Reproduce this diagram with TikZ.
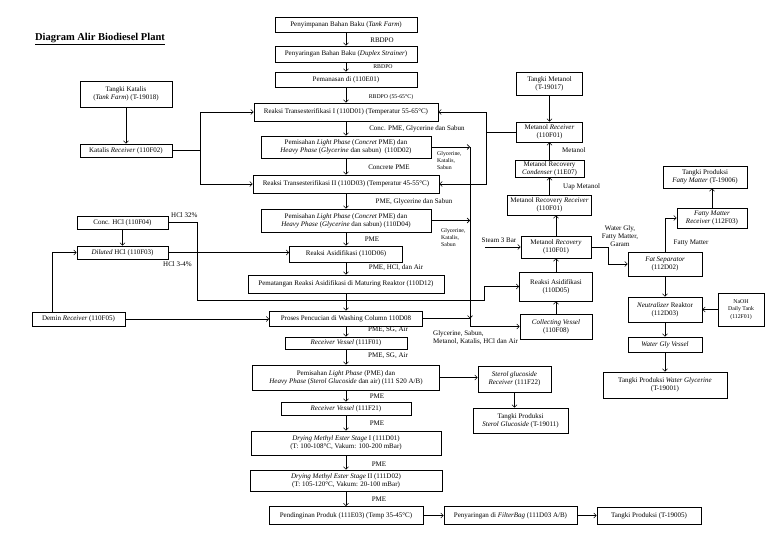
\documentclass[tikz,border=0pt]{standalone}
\usepackage{fontspec}
\setmainfont{Liberation Serif}
\usetikzlibrary{arrows.meta}

\begin{document}
\begin{tikzpicture}[x=1pt, y=-1pt, >={Straight Barb[length=2.5pt,width=5pt]},
            box/.style={draw, line width=0.7pt, inner sep=0.5pt, align=center, font=\fontsize{7}{8.2}\selectfont},
            flow/.style={draw, ->, line width=0.6pt}]
            \tikzset{lbl/.style={inner sep=0pt, align=center, font=\fontsize{7}{8}\selectfont}}
            \tikzset{small lbl/.style={inner sep=0pt, align=left, font=\fontsize{5.8}{7.2}\selectfont}}
            \useasboundingbox (0,0) rectangle (768,543);
            \node[inner sep=0pt, font=\fontsize{10.5}{12}\selectfont\bfseries] (title) at (100,39) {\underline{Diagram Alir Biodiesel Plant}};
            % main column
            \node[box, minimum width=142, minimum height=15] (p1) at (346,24.5) {Penyimpanan Bahan Baku (\textit{Tank Farm})};
            \node[box, minimum width=142, minimum height=16] (p2) at (346,54) {Penyaringan Bahan Baku (\textit{Duplex Strainer})};
            \node[box, minimum width=142, minimum height=15] (p3) at (346,79.5) {Pemanasan di (110E01)};
            \node[box, minimum width=184, minimum height=18] (p4) at (346,112) {Reaksi Transesterifikasi I (110D01) (Temperatur 55-65°C)};
            \node[box, minimum width=170, minimum height=22] (p5) at (346,147) {Pemisahan \textit{Light Phase} (\textit{Concret} PME) dan\\ \textit{Heavy Phase} (\textit{Glycerine} dan sabun) \ (110D02)};
            \node[box, minimum width=186, minimum height=18] (p6) at (346,184) {Reaksi Transesterifikasi II (110D03) (Temperatur 45-55°C)};
            \node[box, minimum width=170, minimum height=23] (p7) at (346,220.5) {Pemisahan \textit{Light Phase} (\textit{Concret} PME) dan\\ \textit{Heavy Phase} (\textit{Glycerine} dan sabun) (110D04)};
            \node[box, minimum width=113, minimum height=16] (p8) at (346,254) {Reaksi Asidifikasi (110D06)};
            \node[box, minimum width=196, minimum height=18] (p9) at (346,284) {Pematangan Reaksi Asidifikasi di Maturing Reaktor (110D12)};
            \node[box, minimum width=153, minimum height=15] (p10) at (346,318.5) {Proses Pencucian di Washing Column 110D08};
            \node[box, minimum width=122, minimum height=12] (p11) at (346,343) {\textit{Receiver Vessel} (111F01)};
            \node[box, minimum width=187, minimum height=25] (p12) at (346,377.5) {Pemisahan \textit{Light Phase} (PME) dan\\ \textit{Heavy Phase} (\textit{Sterol Glucoside} dan air) (111 S20 A/B)};
            \node[box, minimum width=130, minimum height=13] (p13) at (346,408.5) {\textit{Receiver Vessel} (111F21)};
            \node[box, minimum width=190, minimum height=24] (p14) at (346,443) {\textit{Drying Methyl Ester Stage} I (111D01)\\ (T: 100-108°C, Vakum: 100-200 mBar)};
            \node[box, minimum width=192, minimum height=21] (p15) at (346,480.5) {\textit{Drying Methyl Ester Stage} II (111D02)\\ (T: 105-120°C, Vakum: 20-100 mBar)};
            \node[box, minimum width=154, minimum height=18] (p16) at (346,515.5) {Pendinginan Produk (111E03) (Temp 35-45°C)};
            \node[box, minimum width=133, minimum height=18] (p17) at (510.5,515.5) {Penyaringan di \textit{FilterBag} (111D03 A/B)};
            \node[box, minimum width=104, minimum height=17] (p18) at (649,515.5) {Tangki Produksi (T-19005)};
            % left side
            \node[box, minimum width=92, minimum height=26] (kt) at (126,94) {Tangki Katalis\\ (\textit{Tank Farm}) (T-19018)};
            \node[box, minimum width=92, minimum height=13] (kr) at (126,150.5) {Katalis \textit{Receiver} (110F02)};
            \node[box, minimum width=91, minimum height=13] (hc) at (122.5,222.5) {Conc. HCl (110F04)};
            \node[box, minimum width=91, minimum height=13] (hd) at (122.5,252.5) {\textit{Diluted} HCl (110F03)};
            \node[box, minimum width=93, minimum height=14] (dm) at (78.5,319) {Demin \textit{Receiver} (110F05)};
            % right side
            \node[box, minimum width=66, minimum height=23] (tm) at (549.5,83.5) {Tangki Metanol\\ (T-19017)};
            \node[box, minimum width=66, minimum height=20] (mr) at (549.5,132) {Metanol \textit{Receiver}\\ (110F01)};
            \node[box, minimum width=69, minimum height=17] (mc) at (549.5,168.5) {Metanol Recovery\\ \textit{Condenser} (11E07)};
            \node[box, minimum width=84, minimum height=20] (mrr) at (549.5,205) {Metanol Recovery \textit{Receiver}\\ (110F01)};
            \node[box, minimum width=70, minimum height=22] (mv) at (556,247) {Metanol \textit{Recovery}\\ (110F01)};
            \node[box, minimum width=73, minimum height=29] (ra) at (556,286.5) {Reaksi Asidifikasi\\ (110D05)};
            \node[box, minimum width=72, minimum height=25] (cv) at (556,326.5) {\textit{Collecting Vessel}\\ (110F08)};
            \node[box, minimum width=84, minimum height=22] (tf) at (705,177) {Tangki Produksi\\ \textit{Fatty Matter} (T-19006)};
            \node[box, minimum width=70, minimum height=20] (fr) at (712,218) {\textit{Fatty Matter}\\ \textit{Receiver} (112F03)};
            \node[box, minimum width=74, minimum height=24] (fs) at (665,264) {\textit{Fat Separator}\\ (112D02)};
            \node[box, minimum width=74, minimum height=25] (nr) at (665,309.5) {\textit{Neutralizer} Reaktor\\ (112D03)};
            \node[box, minimum width=46, minimum height=33, font=\fontsize{5.8}{7.2}\selectfont] (na) at (741,309.5) {NaOH\\ Daily Tank\\ (112F01)};
            \node[box, minimum width=74, minimum height=15] (wg) at (665,344.5) {\textit{Water Gly Vessel}};
            \node[box, minimum width=124, minimum height=26] (tw) at (665,385) {Tangki Produksi \textit{Water Glycerine}\\ (T-19001)};
            \node[box, minimum width=73, minimum height=26] (sr) at (514.5,379) {\textit{Sterol glucoside}\\ \textit{Receiver} (111F22)};
            \node[box, minimum width=95, minimum height=25] (ts) at (520.5,420.5) {Tangki Produksi\\ \textit{Sterol Glucoside} (T-19011)};
            % stream labels
            \node[lbl] (l1) at (382,40) {RBDPO};
            \node[small lbl] (l2) at (383,67) {RBDPO};
            \node[small lbl] (l3) at (391,97) {RBDPO (55-65°C)};
            \node[lbl] (l4) at (417,129) {Conc. PME, Glycerine dan Sabun};
            \node[lbl] (l5) at (389,167) {Concrete PME};
            \node[lbl] (l6) at (414,202) {PME, Glycerine dan Sabun};
            \node[lbl] (l7) at (372,239) {PME};
            \node[lbl] (l8) at (396,268) {PME, HCl, dan Air};
            \node[lbl] (l9) at (388,330) {PME, SG, Air};
            \node[lbl] (l10) at (388,356) {PME, SG, Air};
            \node[lbl] (l11) at (377,396) {PME};
            \node[lbl] (l12) at (377,423) {PME};
            \node[lbl] (l13) at (379,464) {PME};
            \node[lbl] (l14) at (379,499) {PME};
            \node[small lbl, anchor=west] (l15) at (437,160.5) {Glycerine,\\ Katalis,\\ Sabun};
            \node[small lbl, anchor=west] (l16) at (441,237.5) {Glycerine,\\ Katalis,\\ Sabun};
            \node[lbl, align=left, anchor=west] (l17) at (433,337.5) {Glycerine, Sabun,\\ Metanol, Katalis, HCl dan Air};
            \node[lbl, anchor=west] (l18) at (171,215.5) {HCl 32\%};
            \node[lbl, anchor=west] (l19) at (163,264) {HCl 3-4\%};
            \node[lbl, anchor=west] (l20) at (562,150) {Metanol};
            \node[lbl, anchor=west] (l21) at (563,187) {Uap Metanol};
            \node[lbl] (l22) at (499,240) {Steam 3 Bar};
            \node[lbl] (l23) at (620,236.5) {Water Gly,\\ Fatty Matter,\\ Garam};
            \node[lbl] (l24) at (691,243) {Fatty Matter};
            % main column connectors
            \draw[flow] (p1) -- (p2);
            \draw[flow] (p2) -- (p3);
            \draw[flow] (p3) -- (p4);
            \draw[flow] (p4) -- (p5);
            \draw[flow] (p5) -- (p6);
            \draw[flow] (p6) -- (p7);
            \draw[flow] (p7) -- (p8);
            \draw[flow] (p8) -- (p9);
            \draw[flow] (p9) -- (p10);
            \draw[flow] (p10) -- (p11);
            \draw[flow] (p11) -- (p12);
            \draw[flow] (p12) -- (p13);
            \draw[flow] (p13) -- (p14);
            \draw[flow] (p14) -- (p15);
            \draw[flow] (p15) -- (p16);
            \draw[flow] (p16) -- (p17);
            \draw[flow] (p17) -- (p18);
            % katalis feed
            \coordinate (kj) at (200,150.5);
            \draw[flow] (kt) -- (kr);
            \draw (kr.east) -- (kj);
            \draw[flow] (kj) |- (p4.west);
            \draw[flow] (kj) |- (p6.west);
            % metanol return
            \coordinate (mj) at (486,132);
            \draw (mr.west) -- (mj);
            \draw[flow] (mj) |- (p4.east);
            \draw[flow] (mj) |- (p6.east);
            % glycerine line
            \coordinate (gx) at (470,318.5);
            \draw[flow] (p5.east) -- (p5.east -| gx);
            \draw[flow] (p7.east) -- (p7.east -| gx);
            \draw[flow] (p5.east -| gx) -- (gx);
            \draw[flow] (p10.east) -- (gx) |- (cv.west);
            % HCl and demin
            \coordinate (h1) at (197,300);
            \coordinate (h2) at (484,300);
            \coordinate (dl) at (52,319);
            \draw[flow] (hc) -- (hd);
            \draw[flow] (hc.east) -| (h1) -- (h2) |- (ra.west);
            \draw[flow] (hd.east) -- (hd.east -| p8.west);
            \draw[flow] (dm.north -| dl) |- (hd.west);
            \draw[flow] (dm.east) -- (dm.east -| p10.west);
            % metanol recovery
            \coordinate (st) at (485,247);
            \coordinate (wj) at (608,247);
            \draw[flow] (tm) -- (mr);
            \draw[flow] (mc) -- (mr);
            \draw[flow] (mrr) -- (mc);
            \draw[flow] (mv.north) -- (mv.north |- mrr.south);
            \draw[flow] (ra) -- (mv);
            \draw[flow] (cv) -- (ra);
            \draw[flow] (st) -- (mv.west);
            \draw[flow] (mv.east) -- (wj) |- (fs.west);
            % fat and glycerine
            \draw[flow] (fs.north) |- (fr.west);
            \draw[flow] (fr.north) -- (fr.north |- tf.south);
            \draw[flow] (fs) -- (nr);
            \draw[flow] (na) -- (nr);
            \draw[flow] (nr) -- (wg);
            \draw[flow] (wg) -- (tw);
            % sterol glucoside
            \draw[flow] (p12.east) -- (p12.east -| sr.west);
            \draw[flow] (sr.south) -- (sr.south |- ts.north);
\end{tikzpicture}
\end{document}
